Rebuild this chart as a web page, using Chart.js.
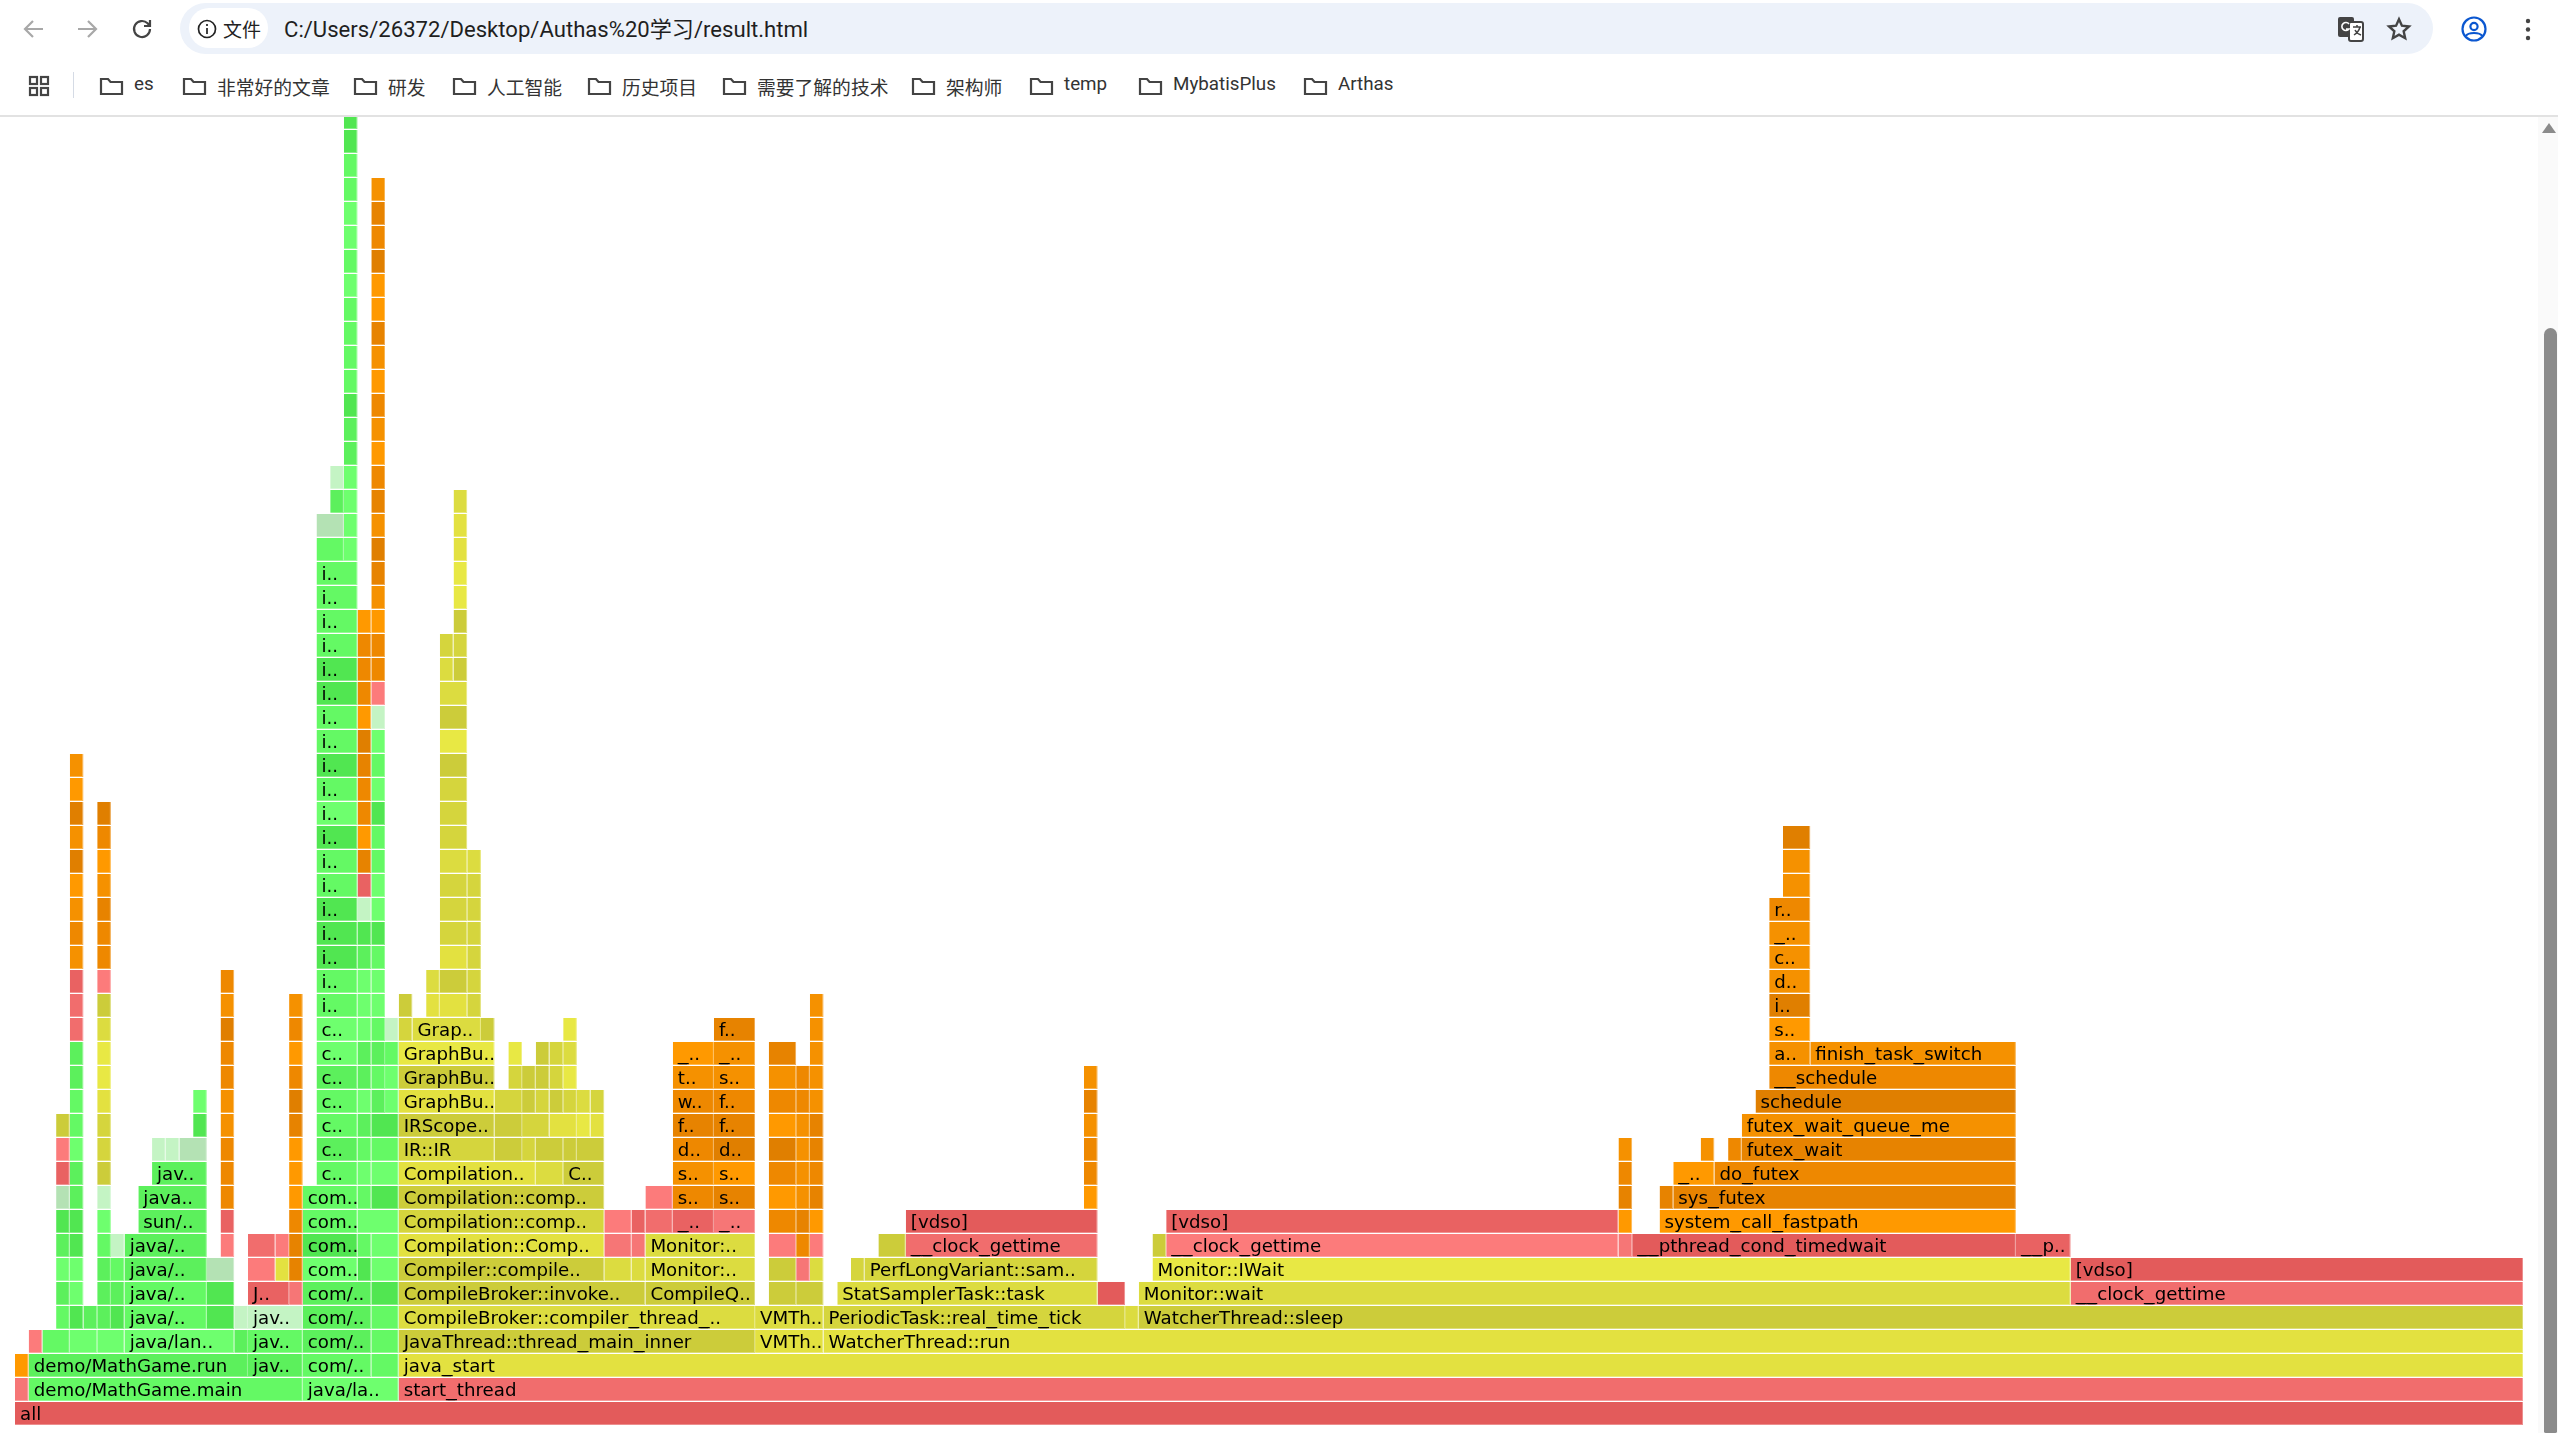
<!DOCTYPE html>
<html>
<head>
<meta charset="utf-8">
<title>result.html</title>
<script src="https://cdn.jsdelivr.net/npm/chart.js@4/dist/chart.umd.min.js"></script>
<style>
  html, body { margin: 0; width: 2558px; height: 1433px; overflow: hidden; background: #fff; }
  #flame { position: absolute; left: 0; top: 100px; }
  #chrome { position: absolute; left: 0; top: 0; width: 2558px; height: 115px; background: #fff; border-bottom: 2px solid #e2e2e2; z-index: 2;
            font-family: Roboto, "Noto Sans CJK SC", sans-serif; color: #222; }
  #chrome > * { position: absolute; }
  #pill { left: 180px; top: 3px; width: 2253px; height: 51px; background: #edf2fa; border-radius: 26px; }
  #chip { left: 189px; top: 8px; width: 79px; height: 40px; background: #fff; border-radius: 20px; }
  .tx { white-space: nowrap; }
  #track { position: absolute; left: 2538px; top: 117px; width: 20px; height: 1316px; background: #fafafa; z-index: 1; }
  #thumb { position: absolute; left: 2544px; top: 328px; width: 13px; height: 1105px; background: #8b8b8b; border-radius: 7px 7px 2px 2px; z-index: 1; }
  #arrow { position: absolute; left: 2542px; top: 123px; width: 0; height: 0; border-left: 7px solid transparent; border-right: 7px solid transparent; border-bottom: 10px solid #8b8b8b; z-index: 1; }
</style>
</head>
<body>
<div id="chrome">
  <div id="pill"></div>
  <div id="chip"></div>
  <svg style="left:22px;top:17px" width="24" height="24" viewBox="0 0 24 24" fill="none" stroke="#a8a8a8" stroke-width="2.2"><path d="M21 12H4M11 4l-8 8 8 8"/></svg>
  <svg style="left:75px;top:17px" width="24" height="24" viewBox="0 0 24 24" fill="none" stroke="#a8a8a8" stroke-width="2.2"><path d="M3 12h17M13 4l8 8-8 8"/></svg>
  <svg style="left:130px;top:17px" width="24" height="24" viewBox="0 0 24 24" fill="none" stroke="#444" stroke-width="2.2"><path d="M20 12a8 8 0 1 1-2.4-5.7L20 9M20 3v6h-6"/></svg>
  <svg style="left:197px;top:19px" width="20" height="20" viewBox="0 0 20 20" fill="none" stroke="#222" stroke-width="1.7"><circle cx="10" cy="10" r="8.5"/><path d="M10 9v6M10 5v2"/></svg>
  <div class="tx" style="left:223px;top:15px;font-size:19px">文件</div>
  <div class="tx" style="left:284px;top:11px;font-size:22.100px;color:#1f1f1f">C:/Users/26372/Desktop/Authas%20学习/result.html</div>
  <svg style="left:2337px;top:15px" width="28" height="28" viewBox="0 0 28 28"><rect x="1" y="2" width="16" height="20" rx="2" fill="#444"/><rect x="12" y="7" width="14" height="19" rx="2" fill="#fff" stroke="#444" stroke-width="2"/><path d="M16 12h8M20 10v2M23 12c-1 4-3 6-6 8M18 15c1 2 3 4 6 5" stroke="#444" fill="none" stroke-width="1.5"/><path d="M12 9a4 4 0 1 0 0 5h-3" stroke="#fff" fill="none" stroke-width="1.6"/></svg>
  <svg style="left:2386px;top:16px" width="26" height="26" viewBox="0 0 24 24" fill="none" stroke="#444" stroke-width="2.2"><path d="M12 3l2.7 6 6.5.7-4.9 4.4 1.4 6.4L12 17.200l-5.700 3.300 1.400-6.400-4.900-4.400 6.500-.7z"/></svg>
  <svg style="left:2461px;top:16px" width="26" height="26" viewBox="0 0 26 26" fill="none" stroke="#0b57d0" stroke-width="2.2"><circle cx="13" cy="13" r="11.500"/><circle cx="13" cy="10.500" r="3.600"/><path d="M5 20c2-4 14-4 16 0"/></svg>
  <svg style="left:2524px;top:17px" width="8" height="24" viewBox="0 0 8 24" fill="#444"><circle cx="4" cy="4" r="2.200"/><circle cx="4" cy="12.500" r="2.200"/><circle cx="4" cy="21" r="2.200"/></svg>
  <svg style="left:28px;top:75px" width="22" height="22" viewBox="0 0 22 22" fill="none" stroke="#444" stroke-width="2.200"><rect x="2" y="2" width="7" height="7"/><rect x="13" y="2" width="7" height="7"/><rect x="2" y="13" width="7" height="7"/><rect x="13" y="13" width="7" height="7"/></svg>
  <div style="left:73px;top:72px;width:1px;height:26px;background:#d5dbe5"></div>
</div>
<div id="track"></div>
<div id="arrow"></div>
<div id="thumb"></div>
<canvas id="flame" width="2558" height="1333"></canvas>
<script>
// samples on the x axis, one row per stack depth
const sampleTotal = 183;
const depthTop = 54.5;

const bookmarkNames = ["es", "非常好的文章", "研发", "人工智能", "历史项目", "需要了解的技术", "架构师", "temp", "MybatisPlus", "Arthas"];
const bookmarkIconLefts = [99, 182, 353, 452, 587, 722, 911, 1029, 1138, 1303];

// [first sample, last sample, name], index of the outer list is the stack depth
const frameSpans = [
  [[0,183,"all"]],
  [[0,1],[1,21,"demo/MathGame.main"],[21,28,"java/la.."],[28,183,"start_thread"]],
  [[0,1],[1,17,"demo/MathGame.run"],[17,21,"jav.."],[21,26,"com/.."],[26,28],[28,183,"java_start"]],
  [[1,2],[2,4],[4,6],[6,8],[8,16,"java/lan.."],[16,17],[17,21,"jav.."],[21,26,"com/.."],[26,28],[28,54,"JavaThread::thread_main_inner"],[54,59,"VMTh.."],[59,183,"WatcherThread::run"]],
  [[3,4],[4,5],[5,6],[6,7],[7,8],[8,14,"java/.."],[14,16],[16,17],[17,21,"jav.."],[21,26,"com/.."],[26,28],[28,54,"CompileBroker::compiler_thread_.."],[54,59,"VMTh.."],[59,81,"PeriodicTask::real_time_tick"],[81,82],[82,183,"WatcherThread::sleep"]],
  [[3,4],[4,5],[6,7],[7,8],[8,14,"java/.."],[14,16],[17,20,"J.."],[20,21],[21,26,"com/.."],[26,28],[28,46,"CompileBroker::invoke.."],[46,54,"CompileQ.."],[55,57],[57,59],[60,79,"StatSamplerTask::task"],[79,81],[82,150,"Monitor::wait"],[150,183,"__clock_gettime"]],
  [[3,4],[4,5],[6,7],[7,8],[8,14,"java/.."],[14,16],[17,19],[19,20],[20,21],[21,25,"com.."],[25,26],[26,28],[28,43,"Compiler::compile.."],[43,45],[45,46],[46,54,"Monitor:.."],[55,57],[57,58],[58,59],[61,62],[62,79,"PerfLongVariant::sam.."],[83,150,"Monitor::IWait"],[150,183,"[vdso]"]],
  [[3,4],[4,5],[6,7],[7,8],[8,14,"java/.."],[15,16],[17,19],[19,20],[20,21],[21,25,"com.."],[25,26],[26,28],[28,43,"Compilation::Comp.."],[43,45],[45,46],[46,54,"Monitor:.."],[55,57],[57,58],[58,59],[63,65],[65,79,"__clock_gettime"],[83,84],[84,117,"__clock_gettime"],[117,118],[118,146,"__pthread_cond_timedwait"],[146,150,"__p.."]],
  [[3,4],[4,5],[6,7],[9,14,"sun/.."],[15,16],[20,21],[21,25,"com.."],[25,28],[28,43,"Compilation::comp.."],[43,45],[45,46],[46,48],[48,51,"_.."],[51,54,"_.."],[55,57],[57,58],[58,59],[65,79,"[vdso]"],[84,117,"[vdso]"],[117,118],[120,146,"system_call_fastpath"]],
  [[3,4],[4,5],[6,7],[9,14,"java.."],[15,16],[20,21],[21,25,"com.."],[25,26],[26,28],[28,43,"Compilation::comp.."],[46,48],[48,51,"s.."],[51,54,"s.."],[55,57],[57,58],[58,59],[78,79],[117,118],[120,121],[121,146,"sys_futex"]],
  [[3,4],[4,5],[6,7],[10,14,"jav.."],[15,16],[20,21],[22,25,"c.."],[25,26],[26,28],[28,38,"Compilation.."],[38,40],[40,43,"C.."],[48,51,"s.."],[51,54,"s.."],[55,57],[57,58],[58,59],[78,79],[117,118],[121,124,"_.."],[124,146,"do_futex"]],
  [[3,4],[4,5],[6,7],[10,11],[11,12],[12,14],[15,16],[20,21],[22,25,"c.."],[25,26],[26,28],[28,35,"IR::IR"],[35,37],[37,38],[38,40],[40,41],[41,43],[48,51,"d.."],[51,54,"d.."],[55,57],[57,58],[58,59],[78,79],[117,118],[123,124],[125,126],[126,146,"futex_wait"]],
  [[3,4],[4,5],[6,7],[13,14],[15,16],[20,21],[22,25,"c.."],[25,26],[26,28],[28,35,"IRScope.."],[35,37],[37,39],[39,41],[41,42],[42,43],[48,51,"f.."],[51,54,"f.."],[55,57],[57,58],[58,59],[78,79],[126,146,"futex_wait_queue_me"]],
  [[4,5],[6,7],[13,14],[15,16],[20,21],[22,25,"c.."],[25,26],[26,27],[27,28],[28,35,"GraphBu.."],[35,37],[37,38],[38,39],[39,40],[40,41],[41,42],[42,43],[48,51,"w.."],[51,54,"f.."],[55,57],[57,58],[58,59],[78,79],[127,146,"schedule"]],
  [[4,5],[6,7],[15,16],[20,21],[22,25,"c.."],[25,26],[26,27],[27,28],[28,35,"GraphBu.."],[36,37],[37,38],[38,39],[39,40],[40,41],[48,51,"t.."],[51,54,"s.."],[55,57],[57,58],[58,59],[78,79],[128,146,"__schedule"]],
  [[4,5],[6,7],[15,16],[20,21],[22,25,"c.."],[25,26],[26,27],[27,28],[28,35,"GraphBu.."],[36,37],[38,39],[39,40],[40,41],[48,51,"_.."],[51,54,"_.."],[55,57],[58,59],[128,131,"a.."],[131,146,"finish_task_switch"]],
  [[4,5],[6,7],[15,16],[20,21],[22,25,"c.."],[25,26],[26,27],[27,28],[28,29],[29,34,"Grap.."],[34,35],[40,41],[51,54,"f.."],[58,59],[128,131,"s.."]],
  [[4,5],[6,7],[15,16],[20,21],[22,25,"i.."],[25,26],[26,27],[28,29],[30,31],[31,33],[33,34],[58,59],[128,131,"i.."]],
  [[4,5],[6,7],[15,16],[22,25,"i.."],[25,26],[26,27],[30,31],[31,33],[33,34],[128,131,"d.."]],
  [[4,5],[6,7],[22,25,"i.."],[25,26],[26,27],[31,33],[33,34],[128,131,"c.."]],
  [[4,5],[6,7],[22,25,"i.."],[25,26],[26,27],[31,33],[33,34],[128,131,"_.."]],
  [[4,5],[6,7],[22,25,"i.."],[25,26],[26,27],[31,33],[33,34],[128,131,"r.."]],
  [[4,5],[6,7],[22,25,"i.."],[25,26],[26,27],[31,33],[33,34],[129,131]],
  [[4,5],[6,7],[22,25,"i.."],[25,26],[26,27],[31,33],[33,34],[129,131]],
  [[4,5],[6,7],[22,25,"i.."],[25,26],[26,27],[31,33],[129,131]],
  [[4,5],[6,7],[22,25,"i.."],[25,26],[26,27],[31,33]],
  [[4,5],[22,25,"i.."],[25,26],[26,27],[31,33]],
  [[4,5],[22,25,"i.."],[25,26],[26,27],[31,33]],
  [[22,25,"i.."],[25,26],[26,27],[31,33]],
  [[22,25,"i.."],[25,26],[26,27],[31,33]],
  [[22,25,"i.."],[25,26],[26,27],[31,33]],
  [[22,25,"i.."],[25,26],[26,27],[31,32],[32,33]],
  [[22,25,"i.."],[25,26],[26,27],[31,32],[32,33]],
  [[22,25,"i.."],[25,26],[26,27],[32,33]],
  [[22,25,"i.."],[26,27],[32,33]],
  [[22,25,"i.."],[26,27],[32,33]],
  [[22,24],[24,25],[26,27],[32,33]],
  [[22,24],[24,25],[26,27],[32,33]],
  [[23,24],[24,25],[26,27],[32,33]],
  [[23,24],[24,25],[26,27]],
  [[24,25],[26,27]],
  [[24,25],[26,27]],
  [[24,25],[26,27]],
  [[24,25],[26,27]],
  [[24,25],[26,27]],
  [[24,25],[26,27]],
  [[24,25],[26,27]],
  [[24,25],[26,27]],
  [[24,25],[26,27]],
  [[24,25],[26,27]],
  [[24,25],[26,27]],
  [[24,25],[26,27]],
  [[24,25]],
  [[24,25]],
  [[24,25]]
];

// colour of each frame, same order as frameSpans
const frameShades = [
  "r4",
  "r1 g1 g0 r2",
  "o0 g2 g2 g1 g1 y1",
  "r0 g1 g0 g0 g0 g2 g1 g2 g1 y4 y1 y1",
  "g1 g3 g2 g2 g3 g1 g3 p0 p0 g2 g1 y2 y2 y3 y2 y4",
  "g2 g0 g2 g2 g1 g3 r3 r1 g2 g3 y4 y4 y4 y4 y2 r4 y2 r2",
  "g0 g0 g2 g1 g2 p1 r0 y1 o3 g0 g3 g0 y4 y2 y2 y2 y4 r1 y2 y3 y3 y0 r4",
  "g2 g3 g1 p0 g2 r0 r2 r0 o3 g3 g1 g0 y1 r1 r1 y2 r0 o2 r0 y4 r2 y4 r0 r1 r4 r3",
  "g3 g3 g0 g2 r3 o2 g1 g0 y3 r0 r3 r2 r3 r1 o2 o3 o0 r4 r3 o0 o0",
  "p1 g2 p0 g2 o2 o0 g1 g1 g3 y4 r0 o2 o3 o0 o1 o3 o0 o3 o3 o3",
  "r3 g2 y4 g2 o2 o0 g1 g0 g0 y1 y2 y4 o1 o0 o2 o1 o2 o2 o2 o0 o2",
  "r0 g0 y3 p0 p0 p1 o2 o0 g2 g1 g1 y3 y4 y3 y4 y4 y4 o2 o4 o4 o1 o3 o2 o1 o1 o2 o3",
  "y4 g1 y3 g3 o1 o3 g1 g2 g3 y4 y4 y3 y1 y0 y1 o3 o3 o0 o1 o3 o1 o1",
  "g1 y1 g0 o1 o4 g1 g0 g2 g0 y1 y3 y4 y3 y4 y3 y2 y3 o2 o2 o2 o2 o1 o3 o4",
  "g2 y0 o2 o2 g2 g2 g1 g0 y4 y3 y4 y4 y3 y0 o1 o1 o1 o2 o1 o1 o2",
  "g2 y0 o2 o0 g0 g2 g2 g1 y0 y0 y4 y3 y2 o0 o1 o3 o1 o1 o1",
  "r2 y2 o4 o2 g0 g0 g1 p0 y3 y2 y4 y0 o3 o1 o0",
  "r2 y4 o1 o1 g1 g0 g0 y4 y1 y1 y3 o1 o4",
  "r3 r0 o2 g1 g0 g0 y2 y4 y3 o1",
  "o1 o2 g3 g2 g1 y1 y3 o1",
  "o2 o2 g3 g3 g3 y3 y3 o1",
  "o1 o3 g3 p0 g0 y3 y3 o2",
  "o0 o1 g1 r3 g0 y3 y3 o1",
  "o4 o0 g1 o3 g1 y2 y2 o1",
  "o1 o2 g3 o0 g1 y3 o4",
  "o4 o4 g0 o2 g3 y3",
  "o0 g1 o2 g0 y3",
  "o1 g3 o3 g1 y4",
  "g1 o4 g0 y0",
  "g1 o0 p0 y4",
  "g3 o2 r0 y2",
  "g3 o2 o2 y2 y4",
  "g1 o2 o2 y3 y3",
  "g1 o0 o0 y4",
  "g1 o1 y0",
  "g1 o3 y0",
  "g1 g0 o4 y1",
  "p1 g0 o1 y1",
  "g2 g0 o3 y2",
  "p0 g0 o2",
  "g2 o0",
  "g2 o1",
  "g3 o2",
  "g1 o0",
  "g1 o1",
  "g1 o3",
  "g1 o0",
  "g0 o0",
  "g1 o4",
  "g0 o2",
  "g0 o3",
  "g1 o1",
  "g1",
  "g3",
  "g3"
];

const palette = {
  r0: "#fc7b7b", r1: "#f67676", r2: "#f16d6d", r3: "#e96262", r4: "#e35b5b",
  o0: "#ff9900", o1: "#f59100", o2: "#ee8800", o3: "#e78300", o4: "#e07f00",
  y0: "#e8e844", y1: "#e3e140", y2: "#dcdc40", y3: "#d5d53d", y4: "#cccc3a",
  g0: "#6eff6e", g1: "#64f964", g2: "#5cf05c", g3: "#51e651",
  p0: "#c4f4c4", p1: "#b4e2b4"
};

const nameFontSize = 18.2;
const underscoreAdvance = 0.59; // the reference font has a wider underscore than dejavu

const points = [], fills = [], edges = [], names = [];
frameSpans.forEach((row, depth) => {
  const shades = frameShades[depth].split(" ");
  row.forEach((span, i) => {
    points.push({ x: [span[0], span[1]], y: depth });
    fills.push(palette[shades[i]]);
    edges.push(palette[shades[i]] + "b0");
    names.push(span[2] || "");
  });
});

bookmarkNames.forEach((name, i) => {
  const chrome = document.getElementById("chrome");
  const left = bookmarkIconLefts[i];
  chrome.insertAdjacentHTML("beforeend",
    `<svg style="left:${left}px;top:76px" width="25" height="20" viewBox="0 0 25 20" fill="none" stroke="#444" stroke-width="2.200"><path d="M2 3h7l2.500 3H23v12H2z"/></svg>` +
    `<div class="tx" style="left:${left + 35}px;top:73px;font-size:18.800px;color:#333">${name}</div>`);
});

function drawName(ctx, name, x, y) {
  name.split(/(_)/).forEach(part => {
    if (part === "_") {
      ctx.fillText("_", x, y);
      ctx.fillText("_", x + (underscoreAdvance - 0.5) * nameFontSize, y);
      x += underscoreAdvance * nameFontSize;
    } else if (part) {
      ctx.fillText(part, x, y);
      x += ctx.measureText(part).width;
    }
  });
}

// frame names sit on top of the bars, left aligned like the flame graph svg
const frameNames = {
  id: "frameNames",
  afterDatasetsDraw(chart) {
    const ctx = chart.ctx;
    const xs = chart.scales.x, ys = chart.scales.y;
    ctx.save();
    ctx.font = nameFontSize + "px 'DejaVu Sans'";
    ctx.fillStyle = "#000";
    ctx.textBaseline = "alphabetic";
    points.forEach((p, i) => {
      if (!names[i]) return;
      drawName(ctx, names[i], xs.getPixelForValue(p.x[0]) + 5, ys.getPixelForValue(p.y) + 6);
    });
    ctx.restore();
  }
};

new Chart(document.getElementById("flame"), {
  type: "bar",
  data: {
    datasets: [{
      data: points,
      backgroundColor: fills,
      borderColor: edges,
      borderWidth: { top: 0, left: 0, right: 1, bottom: 1 },
      borderSkipped: false,
      barThickness: 23,
      inflateAmount: 0,
      grouped: false
    }]
  },
  options: {
    indexAxis: "y",
    responsive: false,
    animation: false,
    layout: { padding: { left: 15, right: 35, top: 5.5, bottom: 7.5 } },
    plugins: { legend: { display: false }, tooltip: { enabled: false } },
    scales: {
      x: { type: "linear", min: 0, max: sampleTotal, display: false },
      y: { type: "linear", min: -0.5, max: depthTop, offset: false, display: false }
    }
  },
  plugins: [frameNames]
});
</script>
</body>
</html>
